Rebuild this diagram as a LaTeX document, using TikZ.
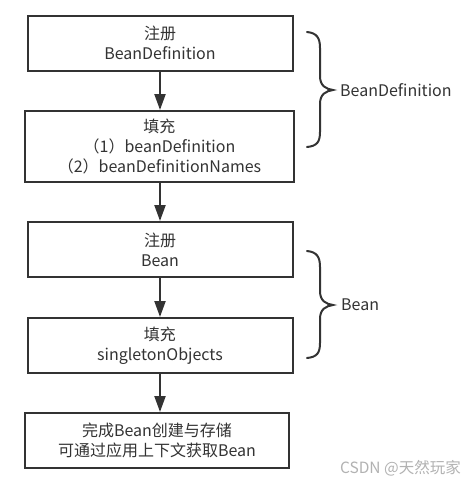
\documentclass[tikz,border=0pt]{standalone}
\usepackage{fontspec}
\setmainfont{Noto Sans CJK SC}
\usetikzlibrary{arrows.meta}
\definecolor{ink}{HTML}{333333}
\tikzset{
  stepbox/.style={draw=ink, line width=2pt, text=ink, align=center, inner sep=0pt,
    font=\fontsize{16}{20}\selectfont},
  flow/.style={draw=ink, line width=2.2pt, -{Triangle[length=16pt,width=11pt]}},
  bracepath/.style={draw=ink, line width=2pt, line cap=round},
  lbl/.style={text=ink, font=\fontsize{16}{18}\selectfont, anchor=west, inner sep=0pt}
}
\begin{document}
\begin{tikzpicture}[x=1pt,y=-1pt]
\useasboundingbox[fill=white] (0,0) rectangle (474,483);
\node[stepbox, minimum width=265pt, minimum height=55pt] (b1) at (160,43) {注册\\BeanDefinition};
\node[stepbox, minimum width=269pt, minimum height=71pt] (b2) at (159.5,146.5) {填充\\（1）beanDefinition\\（2）beanDefinitionNames};
\node[stepbox, minimum width=265pt, minimum height=55pt] (b3) at (160,249.5) {注册\\Bean};
\node[stepbox, minimum width=265pt, minimum height=55pt] (b4) at (160,345.5) {填充\\singletonObjects};
\node[stepbox, minimum width=264pt, minimum height=55pt] (b5) at (157,440.5) {完成Bean创建与存储\\可通过应用上下文获取Bean};
\draw[flow] (b1.south -| 160,0) -- (b2.north -| 160,0);
\draw[flow] (b2.south -| 160,0) -- (b3.north -| 160,0);
\draw[flow] (b3.south -| 160,0) -- (b4.north -| 160,0);
\draw[flow] (b4.south -| 160,0) -- (b5.north -| 160,0);
% braces
\coordinate (t1) at (333,90);
\draw[bracepath] (307,32) .. controls (317,33) and (320,38) .. (320,48) -- (320,76)
  .. controls (320,86) and (326,89) .. (t1)
  .. controls (326,91) and (320,94) .. (320,104) -- (320,132)
  .. controls (320,142) and (317,146) .. (307,147);
\node[lbl] (l1) at (340,90) {BeanDefinition};
\coordinate (t2) at (333,305);
\draw[bracepath] (307,251) .. controls (317,252) and (320,257) .. (320,267) -- (320,291)
  .. controls (320,301) and (326,304) .. (t2)
  .. controls (326,306) and (320,309) .. (320,319) -- (320,343)
  .. controls (320,353) and (317,357) .. (307,358);
\node[lbl] (l2) at (341,305) {Bean};
\node[text=gray!60, font=\fontsize{15.5}{17}\selectfont, anchor=east, inner sep=0pt] (wm) at (461,468) {CSDN @天然玩家};
\end{tikzpicture}
\end{document}
